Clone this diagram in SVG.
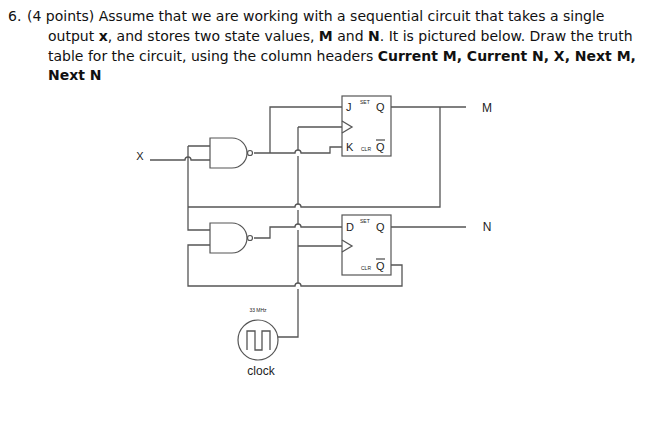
<svg xmlns="http://www.w3.org/2000/svg" width="665" height="422" viewBox="0 0 665 422">
<style>
.t{font-family:"DejaVu Sans",Verdana,sans-serif;font-size:14px;fill:#111}
.w{fill:none;stroke:#555;stroke-width:1.3}
.g{fill:#fff;stroke:#555;stroke-width:1.2}
.l{font-family:"Liberation Sans",Arial,sans-serif;fill:#222}
</style>
<rect width="665" height="422" fill="#fff"/>
<g id="question">
<text class="t" x="8" y="21">6.</text>
<text class="t" x="27" y="21">(4 points) Assume that we are working with a sequential circuit that takes a single</text>
<text class="t" x="48" y="41">output <tspan font-weight="bold">x</tspan>, and stores two state values, <tspan font-weight="bold">M</tspan> and <tspan font-weight="bold">N</tspan>. It is pictured below. Draw the truth</text>
<text class="t" x="48" y="61">table for the circuit, using the column headers <tspan font-weight="bold">Current M, Current N, X, Next M,</tspan></text>
<text class="t" x="48" y="80" font-weight="bold">Next N</text>
</g>
<g id="connectors">
<path class="w" d="M150 160 H185 a3 3 0 0 1 6 0 H210"/>
<path class="w" d="M188 146 H210 M188 146 V230 H210"/>
<path class="w" d="M254 153 H295 a3 3 0 0 1 6 0 H330 V147 H342"/>
<path class="w" d="M270 153 V107 H342"/>
<path class="w" d="M391 107 H466"/>
<path class="w" d="M440 107 V207 H301 a3 3 0 0 0 -6 0 H188"/>
<path class="w" d="M254 238 H270 V227 H295 a3 3 0 0 1 6 0 H342"/>
<path class="w" d="M391 227 H466"/>
<path class="w" d="M298 127 H342 M298 127 V150 M298 156 V204 M298 210 V224 M298 230 V283 M298 289 V337 H278"/>
<path class="w" d="M298 246 H342"/>
<path class="w" d="M391 265 H402 V286 H301 a3 3 0 0 0 -6 0 H188 V245 H210"/>
</g>
<g id="jk">
<rect class="g" x="342" y="96" width="49" height="60"/>
<path class="w" d="M342 121 L352 127 L342 133"/>
<text class="l" x="346" y="111" font-size="11">J</text>
<text class="l" x="360" y="104" font-size="5">SET</text>
<text class="l" x="376" y="111" font-size="11">Q</text>
<text class="l" x="346" y="151" font-size="11">K</text>
<text class="l" x="361" y="151" font-size="5">CLR</text>
<text class="l" x="376" y="151" font-size="11">Q</text>
<path class="w" d="M376 140 H385" stroke-width="1"/>
</g>
<g id="d">
<rect class="g" x="342" y="215" width="49" height="60"/>
<path class="w" d="M342 240 L352 246 L342 252"/>
<text class="l" x="346" y="231" font-size="11">D</text>
<text class="l" x="360" y="223" font-size="5">SET</text>
<text class="l" x="376" y="231" font-size="11">Q</text>
<text class="l" x="361" y="270" font-size="5">CLR</text>
<text class="l" x="376" y="270" font-size="11">Q</text>
<path class="w" d="M376 259 H385" stroke-width="1"/>
</g>
<g id="nand1">
<path class="g" d="M210 138 H232 A15 15 0 0 1 232 168 H210 Z"/>
<circle class="g" cx="250" cy="153" r="2.5"/>
</g>
<g id="nand2">
<path class="g" d="M210 223 H232 A15 15 0 0 1 232 253 H210 Z"/>
<circle class="g" cx="250" cy="238" r="2.5"/>
</g>
<g id="clock">
<circle class="g" cx="258" cy="340" r="20"/>
<path class="w" d="M247 350 V331 H255 V350 H262 V331 H270 V350"/>
<text class="l" x="258" y="312" font-size="5" text-anchor="middle">33 MHz</text>
<text class="l" x="261" y="375" font-size="12" text-anchor="middle">clock</text>
</g>
<g id="labels">
<text class="l" x="140" y="160" font-size="11" text-anchor="middle">X</text>
<text class="l" x="487" y="112" font-size="12" text-anchor="middle">M</text>
<text class="l" x="487" y="231" font-size="12" text-anchor="middle">N</text>
</g>
</svg>
